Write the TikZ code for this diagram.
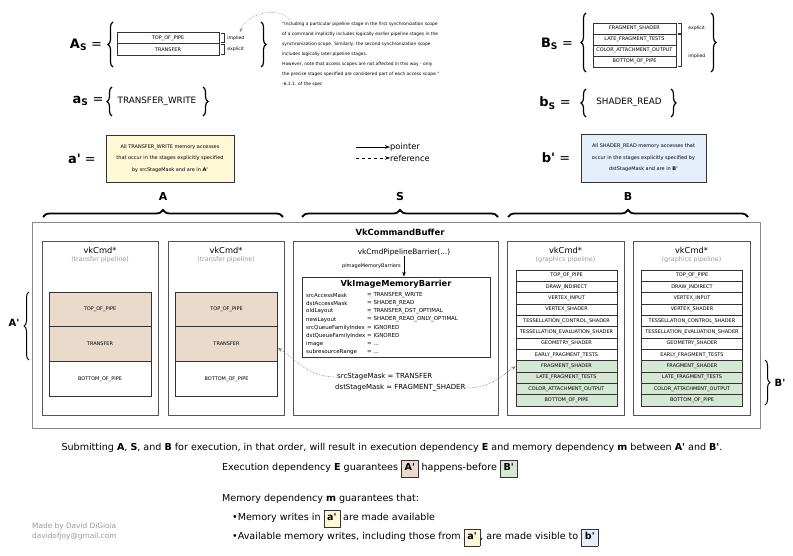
\documentclass[tikz,border=0pt]{standalone}
\usepackage{fontspec}
\setmainfont{DejaVu Sans}
\usetikzlibrary{positioning,decorations.pathreplacing,arrows.meta}

\definecolor{adep}{HTML}{EADACB}
\definecolor{bdep}{HTML}{D5E8D4}
\definecolor{amem}{HTML}{FFF8D6}
\definecolor{bmem}{HTML}{E5EFFB}
\definecolor{edge}{HTML}{333333}
\definecolor{boxline}{HTML}{555555}
\definecolor{outline}{HTML}{888888}
\definecolor{note}{HTML}{999999}

\newcommand\pr{\textquotesingle}
\newcommand\etc{...}
\newcommand\tagbox[2]{{\setlength\fboxsep{2.6bp}\fcolorbox{edge}{#1}{\rule[-4bp]{0pt}{11.5bp}\kern.6bp\textbf{#2}\kern.6bp}}}
\newcommand\gfxstages{TOP\_OF\_PIPE/white, DRAW\_INDIRECT/white, VERTEX\_INPUT/white,
  VERTEX\_SHADER/white, TESSELLATION\_CONTROL\_SHADER/white,
  TESSELLATION\_EVALUATION\_SHADER/white, GEOMETRY\_SHADER/white,
  EARLY\_FRAGMENT\_TESTS/white, FRAGMENT\_SHADER/bdep, LATE\_FRAGMENT\_TESTS/bdep,
  COLOR\_ATTACHMENT\_OUTPUT/bdep, BOTTOM\_OF\_PIPE/bdep}

\begin{document}
\begin{tikzpicture}[
    x=1bp, y=-1bp, every node/.style={inner sep=0pt},
    setlbl/.style={font=\fontsize{13}{15}\selectfont},
    setstage/.style={draw=edge, fill=white, line width=.5bp, minimum height=11.2bp,
      font=\fontsize{5}{6}\selectfont},
    tinylbl/.style={anchor=west, font=\fontsize{4.6}{5.5}\selectfont},
    elem/.style={font=\fontsize{8.8}{10}\selectfont},
    setbrace/.style={decorate, decoration={brace, amplitude=5bp}, line width=1.2bp},
    bigbrace/.style={decorate, decoration={brace, amplitude=7bp}, line width=1.8bp},
    bracket/.style={draw=edge, line width=.5bp},
    membox/.style={draw=edge, line width=.5bp, align=center, font=\fontsize{5}{11.5}\selectfont},
    quote/.style={anchor=north west, align=left, font=\fontsize{4.4}{10}\selectfont},
    legtxt/.style={anchor=west, font=\fontsize{8.3}{10}\selectfont},
    ptr/.style={-{Stealth[length=5bp,width=3.5bp]}, line width=.6bp},
    refline/.style={ptr, dashed},
    dotref/.style={-{Stealth[length=4.5bp,width=3.5bp]}, densely dotted, draw=gray, line width=.6bp},
    section/.style={font=\bfseries\fontsize{11}{13}\selectfont},
    cmdbox/.style={draw=boxline, fill=white, line width=.8bp, minimum height=174bp},
    cmdtitle/.style={font=\fontsize{8.3}{10}\selectfont},
    cmdsub/.style={text=note, font=\fontsize{6.4}{8}\selectfont},
    tstage/.style={draw=edge, line width=.6bp, minimum width=102bp, minimum height=34.7bp,
      font=\fontsize{5}{6}\selectfont},
    gstage/.style={draw=edge, line width=.6bp, minimum width=101bp, minimum height=11.33bp,
      font=\fontsize{5}{6}\selectfont},
    field/.style={anchor=west, font=\fontsize{5.5}{6.5}\selectfont},
    body/.style={font=\fontsize{9.6}{11}\selectfont}]
  \useasboundingbox (0,0) rectangle (793,556);

  % source and destination sets
  \node[setlbl] (As-lbl) at (86,45) {\textbf{A\textsubscript{S}} =};
  \foreach \s[count=\i] in {TOP\_OF\_PIPE, TRANSFER}
  \node[setstage, minimum width=102bp] (as-\i) at (168,26.25+11.5*\i) {\s};
  \draw[bracket] ([shift={(2,1)}]as-1.north east) -| ([shift={(5,-1)}]as-1.south east)
  -- ([shift={(2,-1)}]as-1.south east);
  \draw[bracket] ([shift={(2,1)}]as-2.north east) -| ([shift={(5,-1)}]as-2.south east)
  -- ([shift={(2,-1)}]as-2.south east);
  \node[tinylbl] (impl-lbl) at ([xshift=8bp]as-1.east) {implied};
  \node[tinylbl] (expl-lbl) at ([xshift=8bp]as-2.east) {explicit};
  \draw[setbrace] (113,67) -- (113,22);
  \draw[setbrace] (261,22) -- (261,67);

  \node[setlbl] (Bs-lbl) at (557,44) {\textbf{B\textsubscript{S}} =};
  \foreach \s[count=\i] in {FRAGMENT\_SHADER, LATE\_FRAGMENT\_TESTS, COLOR\_ATTACHMENT\_OUTPUT, BOTTOM\_OF\_PIPE}
  \node[setstage, minimum width=83bp, minimum height=11bp] (bs-\i) at (634.5,17.5+11*\i) {\s};
  \draw[bracket] ([shift={(2,1)}]bs-1.north east) -| ([shift={(5,-1)}]bs-1.south east)
  -- ([shift={(2,-1)}]bs-1.south east);
  \draw[bracket] ([shift={(2,1)}]bs-2.north east) -| ([shift={(5,-1)}]bs-4.south east)
  -- ([shift={(2,-1)}]bs-4.south east);
  \node[tinylbl] (bexpl-lbl) at ([xshift=12bp]bs-1.east) {explicit};
  \node[tinylbl] (bimpl-lbl) at ([xshift=12bp,yshift=-5.5bp]bs-3.east) {implied};
  \draw[setbrace] (586,72) -- (586,13);
  \draw[setbrace] (711,13) -- (711,72);

  % spec quote
  \node[quote] (quote) at (282,22) {"Including a particular pipeline stage in the first synchronization scope\\
    of a command implicitly includes logically earlier pipeline stages in the\\
    synchronization scope. Similarly, the second synchronization scope\\
    includes logically later pipeline stages.\\
    However, note that access scopes are not affected in this way - only\\
    the precise stages specified are considered part of each access scope."\\
    -6.1.1. of the spec};
  \draw[dotref, draw=gray!80] ([shift={(8,-1)}]quote.north west) .. controls +(-6,-14) and +(8,-22)
  .. ([shift={(4,-3)}]impl-lbl.north);

  % access masks
  \node[setlbl] (as-mask-lbl) at (88,101) {\textbf{a\textsubscript{S}} =};
  \node[elem] (as-mask) at (157,101) {TRANSFER\_WRITE};
  \draw[setbrace] (112,116) -- (112,87);
  \draw[setbrace] (203,87) -- (203,116);
  \node[setlbl] (bs-mask-lbl) at (555,103) {\textbf{b\textsubscript{S}} =};
  \node[elem] (bs-mask) at (629,102) {SHADER\_READ};
  \draw[setbrace] (586,117) -- (586,89);
  \draw[setbrace] (671,89) -- (671,117);

  \node[setlbl] (am-lbl) at (82,159) {\textbf{a\pr} =};
  \node[membox, fill=amem, minimum width=128bp, minimum height=47bp] (am) at (170,158.5)
  {All TRANSFER\_WRITE memory accesses\\that occur in the stages explicitly specified\\by srcStageMask and are in \textbf{A\pr}};
  \node[setlbl] (bm-lbl) at (556,158) {\textbf{b\pr} =};
  \node[membox, fill=bmem, minimum width=125bp, minimum height=48bp] (bm) at (643.5,158)
  {All SHADER\_READ memory accesses that\\occur in the stages explicitly specified by\\dstStageMask and are in \textbf{B\pr}};

  % legend
  \coordinate (leg-p) at (356,147);
  \coordinate (leg-r) at (356,158);
  \node[legtxt] (ptr-lbl) at (390,147) {pointer};
  \node[legtxt] (ref-lbl) at (390,158) {reference};
  \draw[ptr] (leg-p) -- (ptr-lbl.west);
  \draw[refline] (leg-r) -- (ref-lbl.west);

  % A, S, B
  \foreach \n/\l/\r in {A/43/283, S/302/498, B/508/748} {
    \draw[bigbrace] (\l,217) -- (\r,217);
    \node[section] (sec-\n) at ({(\l+\r)/2},197) {\n};
  }

  % command buffer
  \node[draw=outline, line width=.9bp, minimum width=728bp, minimum height=206bp] (cmdbuf) at (396,325) {};
  \node[font=\bfseries\fontsize{8.5}{10}\selectfont] (cmdbuf-lbl) at (400,232) {VkCommandBuffer};
  \foreach \b/\x/\w in {a1/100/116bp, a2/226/116bp, s/395.5/205bp, b1/565.5/117bp, b2/691.5/117bp}
  \node[cmdbox, minimum width=\w] (\b-box) at (\x,328) {};
  \foreach \b/\x/\p in {a1/100/transfer, a2/226/transfer, b1/565.5/graphics, b2/691.5/graphics} {
    \node[cmdtitle] (\b-title) at (\x,250) {vkCmd*};
    \node[cmdsub] (\b-sub) at (\x,259.5) {(\p{} pipeline)};
  }
  \foreach \b/\x in {a1/100, a2/226.5}
  \foreach \s/\c[count=\i] in {TOP\_OF\_PIPE/adep, TRANSFER/adep, BOTTOM\_OF\_PIPE/white}
  \node[tstage, fill=\c] (\b-\i) at (\x,274.65+34.7*\i) {\s};
  \foreach \b/\x in {b1/566.5, b2/692}
  \foreach \s/\c[count=\i] in \gfxstages
  \node[gstage, fill=\c] (\b-\i) at (\x,264.33+11.33*\i) {\s};

  % pipeline barrier
  \node[font=\fontsize{7.4}{9}\selectfont] (pb-call) at (404,252) {vkCmdPipelineBarrier(\etc)};
  \node[draw=edge, line width=.8bp, minimum width=188bp, minimum height=80bp] (imb) at (396,317) {};
  \node[font=\bfseries\fontsize{8.3}{10}\selectfont] (imb-lbl) at (396,284) {VkImageMemoryBarrier};
  \draw[ptr] (pb-call.south) -- node[left=3bp, font=\fontsize{5}{6}\selectfont] {pImageMemoryBarriers}
  (pb-call.south |- imb.north);
  \foreach \f/\v[count=\i] in {srcAccessMask/TRANSFER\_WRITE, dstAccessMask/SHADER\_READ,
    oldLayout/TRANSFER\_DST\_OPTIMAL, newLayout/SHADER\_READ\_ONLY\_OPTIMAL,
    srcQueueFamilyIndex/IGNORED, dstQueueFamilyIndex/IGNORED, image/\etc, subresourceRange/\etc} {
    \node[field] (imb-f\i) at (306,286.8+8.2*\i) {\f};
    \node[field] (imb-v\i) at (367,286.8+8.2*\i) {= \v};
  }
  \node[field, font=\fontsize{7}{8}\selectfont] (src-mask) at (337,377) {srcStageMask = TRANSFER};
  \node[field, font=\fontsize{7}{8}\selectfont] (dst-mask) at (335,388) {dstStageMask = FRAGMENT\_SHADER};
  \draw[dotref] (src-mask.west) .. controls +(-30,0) and +(20,12) .. ([yshift=-4bp]a2-2.east);
  \draw[dotref] (dst-mask.east) .. controls +(25,0) and +(-15,10) .. (b1-9.west);

  % A' and B'
  \draw[setbrace, line width=1bp] (29,360) -- (29,292);
  \node[font=\bfseries\fontsize{10}{12}\selectfont] (Ap-lbl) at (14,323) {A\pr};
  \draw[setbrace, line width=1bp] (765,360) -- (765,405);
  \node[font=\bfseries\fontsize{10}{12}\selectfont] (Bp-lbl) at (780,383) {B\pr};

  % summary
  \node[body] (sum) at (392,448) {Submitting \textbf{A}, \textbf{S}, and \textbf{B} for execution, in that order, will result in execution dependency \textbf{E} and memory dependency \textbf{m} between \textbf{A\pr} and \textbf{B\pr}.};
  \node[body, anchor=west] (exec) at (222,469) {Execution dependency \textbf{E} guarantees \tagbox{adep}{A\pr} happens-before \tagbox{bdep}{B\pr}};
  \node[body, anchor=west] (mem) at (222,499) {Memory dependency \textbf{m} guarantees that:};
  \node[body, anchor=west] (mem-1) at (232,519) {•Memory writes in \tagbox{amem}{a\pr} are made available};
  \node[body, anchor=west] (mem-2) at (232,537.5) {•Available memory writes, including those from \tagbox{amem}{a\pr}, are made visible to \tagbox{bmem}{b\pr}};
  \node[anchor=west, align=left, text=note, font=\fontsize{7.4}{10}\selectfont] (credit) at (32,531)
  {Made by David DiGioia\\davidofjoy@gmail.com};
\end{tikzpicture}
\end{document}
